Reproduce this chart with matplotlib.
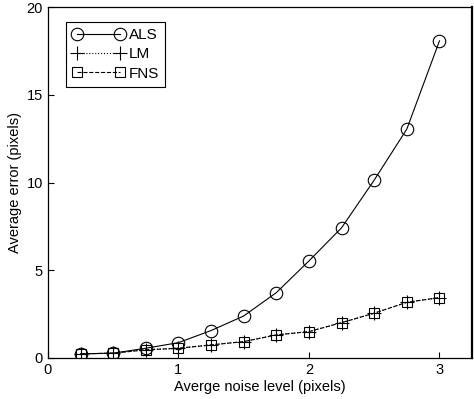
import matplotlib.pyplot as plt

plt.rcParams['font.family'] = ['Liberation Sans', 'DejaVu Sans']

# Data
noise = [0.25, 0.5, 0.75, 1.0, 1.25, 1.5, 1.75, 2.0, 2.25, 2.5, 2.75, 3.0]
als = [0.23, 0.27, 0.55, 0.87, 1.56, 2.39, 3.72, 5.53, 7.42, 10.14, 13.05, 18.08]
lm = [0.23, 0.27, 0.46, 0.55, 0.74, 0.93, 1.31, 1.50, 2.01, 2.55, 3.17, 3.44]
fns = [0.23, 0.27, 0.46, 0.55, 0.74, 0.93, 1.31, 1.50, 2.01, 2.55, 3.17, 3.44]

fig = plt.figure(figsize=(4.74, 3.99), dpi=100)
ax = fig.add_axes([0.101, 0.103, 0.895, 0.879])

ax.plot(noise, als, '-', color='black', lw=0.8, marker='o', ms=9,
        mfc='none', mec='black', mew=0.8, label='ALS')
ax.plot(noise, lm, ':', color='black', lw=0.8, marker='+', ms=10,
        mec='black', mew=0.8, label='LM')
ax.plot(noise, fns, '--', color='black', lw=0.8, marker='s', ms=7.5,
        mfc='none', mec='black', mew=0.8, label='FNS')

ax.set_xlim(0, 3.25)
ax.set_ylim(0, 20)
ax.set_xticks([0, 1, 2, 3])
ax.set_yticks([0, 5, 10, 15, 20])
ax.tick_params(direction='in', length=4, labelsize=10.5, width=0.8)
for s in ax.spines.values():
    s.set_linewidth(0.9)
ax.spines['right'].set_linewidth(1.6)

ax.set_xlabel("Averge noise level (pixels)", fontsize=10.5, labelpad=2)
ax.set_ylabel("Average error (pixels)", fontsize=10.5, labelpad=3)

leg = ax.legend(loc='upper left', bbox_to_anchor=(0.025, 0.98), fontsize=11,
                fancybox=False, edgecolor='black', framealpha=1,
                numpoints=2, handlelength=3.4, borderpad=0.4,
                labelspacing=0.35, handletextpad=0.3)
leg.get_frame().set_linewidth(0.8)

fig.savefig('out.png', dpi=100)
